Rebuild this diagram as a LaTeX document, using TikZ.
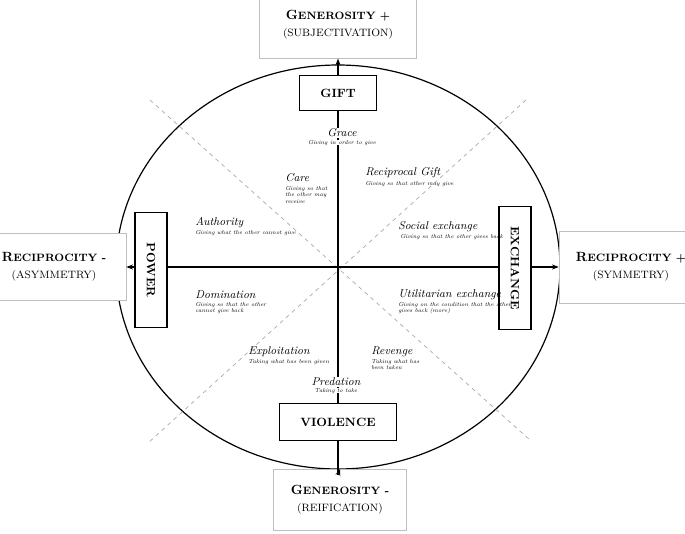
\documentclass[tikz,border=0pt]{standalone}
\usetikzlibrary{arrows.meta}
\begin{document}
\begin{tikzpicture}[x=0.75pt,y=-0.75pt,
  ttl/.style={font=\itshape\fontsize{8.5}{9}\selectfont,inner sep=0pt,anchor=west},
  sub/.style={font=\itshape\fontsize{4.3}{4.9}\selectfont,inner sep=0pt,anchor=north west,align=left},
  box/.style={draw,line width=1.1pt,fill=white,font=\bfseries\fontsize{9}{11}\selectfont,inner sep=0pt},
  outb/.style={draw=black!25,fill=white,align=center,inner sep=0pt,font=\fontsize{8}{9.5}\selectfont},
  dsh/.style={draw=black!35,dashed,line width=0.5pt},
  ax/.style={line width=0.9pt,-{Stealth[length=5pt]}}]
\useasboundingbox (0,0) rectangle (685,533);
\coordinate (c) at (338,267);
\draw[line width=0.9pt] (c) ellipse [x radius=222, y radius=202];
\coordinate (d1a) at (150,100); \coordinate (d1b) at (530,440);
\coordinate (d2a) at (526,100); \coordinate (d2b) at (148,443);
\draw[dsh] (d1a) -- (d1b); \draw[dsh] (d2a) -- (d2b);
\node[outb,minimum width=118,minimum height=50] (gp) at (338,25) {\textbf{{\fontsize{10}{10}\selectfont G}ENEROSITY +}\\[3pt] (SUBJECTIVATION)};
\node[outb,minimum width=100,minimum height=46] (gm) at (340,500) {\textbf{{\fontsize{10}{10}\selectfont G}ENEROSITY -}\\[3pt] (REIFICATION)};
\node[outb,minimum width=108,minimum height=50] (rm) at (54,267) {\textbf{{\fontsize{10}{10}\selectfont R}ECIPROCITY -}\\[3pt] (ASYMMETRY)};
\node[outb,minimum width=108,minimum height=54] (rp) at (631,267) {\textbf{{\fontsize{10}{10}\selectfont R}ECIPROCITY +}\\[3pt] (SYMMETRY)};
\draw[ax] (338,475) -- (gm.north);
\draw[ax] (338,100) -- (gp.south);
\draw[ax] (c) -- (rm.east);
\draw[ax] (c) -- (rp.west);
\draw[line width=0.9pt] (338,100) -- (338,475);
\node[box,minimum width=58,minimum height=26] (gift) at (338,93) {GIFT};
\node[box,minimum width=88,minimum height=28] (vio) at (338,422) {VIOLENCE};
\node[box,rotate=-90,minimum width=86,minimum height=24] (pow) at (151,270) {POWER};
\node[box,rotate=-90,minimum width=92,minimum height=24] (exc) at (515,268) {EXCHANGE};
\node[ttl,anchor=center,fill=white,inner sep=1pt] (gr) at (342,133) {Grace};
\node[sub,anchor=north,fill=white] at (342,140) {Giving in order to give};
\node[ttl] (ca) at (285,178) {Care};
\node[sub] at (285,186) {Giving so that\\the other may\\receive};
\node[ttl] (rg) at (365,173) {Reciprocal Gift};
\node[sub] at (365,181) {Giving so that other may give};
\node[ttl] (au) at (195,223) {Authority};
\node[sub] at (195,230) {Giving what the other cannot give};
\node[ttl] (se) at (398,227) {Social exchange};
\node[sub] at (400,234) {Giving so that the other gives back};
\node[ttl] (do) at (195,295) {Domination};
\node[sub] at (195,302) {Giving so that the other\\cannot give back};
\node[ttl] (ue) at (398,295) {Utilitarian exchange};
\node[sub] at (398,302) {Giving on the condition that the other\\gives back (more)};
\node[ttl] (ex) at (248,352) {Exploitation};
\node[sub] at (248,359) {Taking what has been given};
\node[ttl] (re) at (371,352) {Revenge};
\node[sub] at (371,359) {Taking what has\\been taken};
\node[ttl,anchor=center,fill=white,inner sep=1pt] (pr) at (336,382) {Predation};
\node[sub,anchor=north,fill=white] at (336,388) {Taking to take};
\end{tikzpicture}
\end{document}
